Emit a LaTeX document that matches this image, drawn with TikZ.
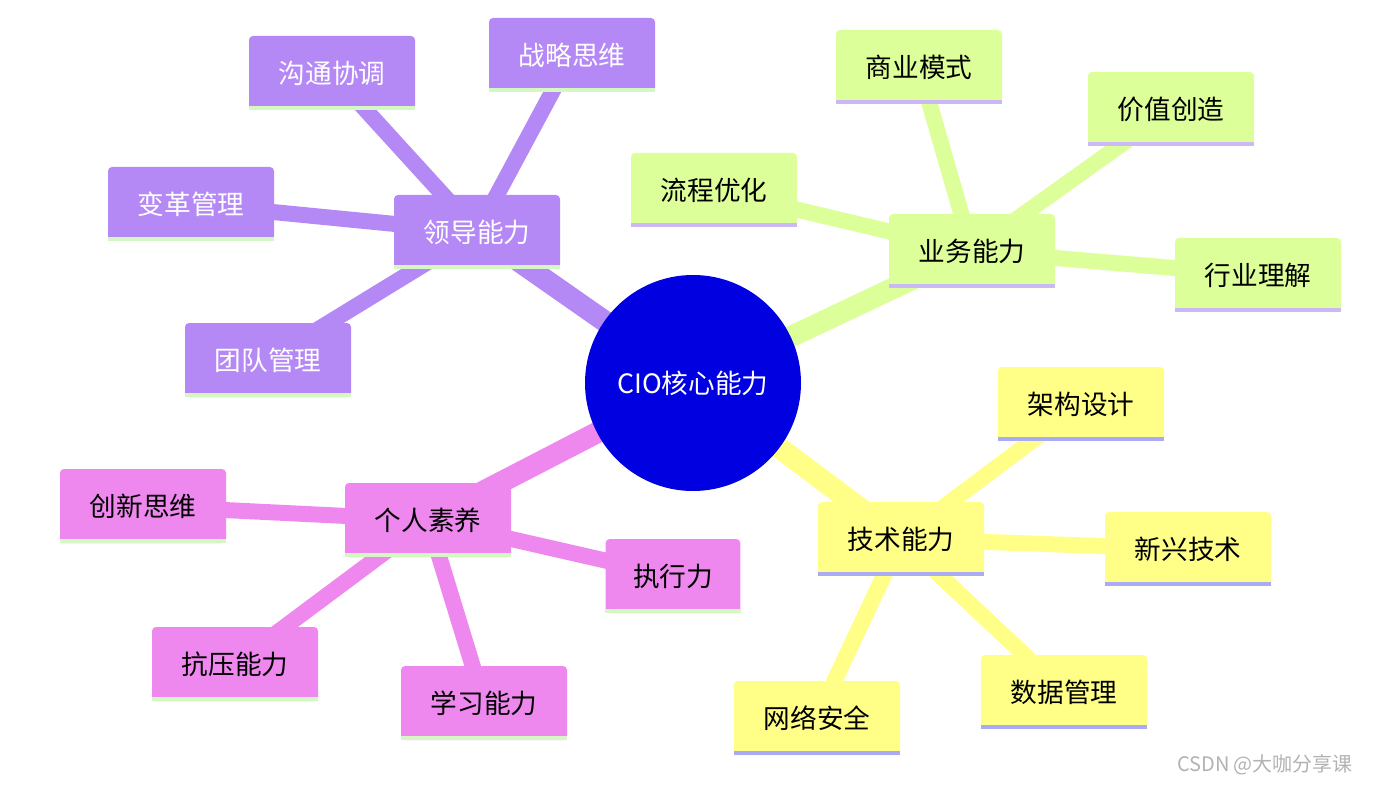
\documentclass[tikz,border=0pt]{standalone}
\usepackage{fontspec}
\setmainfont{Noto Sans CJK SC}
\usetikzlibrary{backgrounds}
\definecolor{lead}{HTML}{B589F5}
\definecolor{biz}{HTML}{DDFF99}
\definecolor{tech}{HTML}{FFFF88}
\definecolor{pers}{HTML}{EE88EE}
\definecolor{sgreen}{HTML}{D4F7C4}
\definecolor{slav}{HTML}{CDB8F7}
\definecolor{sblue}{HTML}{AAAAF5}
\tikzset{
 box/.style={rectangle,rounded corners=3pt,minimum width=124.5pt,minimum height=55.5pt,inner sep=0pt,font=\fontsize{20}{24}\selectfont},
 mainedge/.style={line width=16pt},
 subedge/.style={line width=12pt},
}
\newcommand\mmnode[6]{% name, pos, text, fill, stripe, textcolor
 \node[box,fill=#4,text=#6] (#1) at (#2) {#3};
 \fill[#5] (#1.south west) rectangle ([yshift=3.5pt]#1.south east);
}
\begin{document}
\begin{tikzpicture}[x=0.75pt,y=-0.75pt]
\useasboundingbox (0,0) rectangle (1386,788);
\node[circle,fill=blue!88!black,minimum size=162pt,text=white,font=\fontsize{20}{24}\selectfont] (c) at (693,383) {CIO核心能力};
\mmnode{L}{477,232}{领导能力}{lead}{sgreen}{white}
\mmnode{L1}{332,73}{沟通协调}{lead}{sgreen}{white}
\mmnode{L2}{572,55}{战略思维}{lead}{sgreen}{white}
\mmnode{L3}{191,204}{变革管理}{lead}{sgreen}{white}
\mmnode{L4}{268,360}{团队管理}{lead}{sgreen}{white}
\mmnode{B}{972,251}{业务能力}{biz}{slav}{black}
\mmnode{B1}{919,67}{商业模式}{biz}{slav}{black}
\mmnode{B2}{1171,109}{价值创造}{biz}{slav}{black}
\mmnode{B3}{714,190}{流程优化}{biz}{slav}{black}
\mmnode{B4}{1258,275}{行业理解}{biz}{slav}{black}
\mmnode{T}{901,539}{技术能力}{tech}{sblue}{black}
\mmnode{T1}{1081,404}{架构设计}{tech}{sblue}{black}
\mmnode{T2}{1188,549}{新兴技术}{tech}{sblue}{black}
\mmnode{T3}{1064,692}{数据管理}{tech}{sblue}{black}
\mmnode{T4}{817,718}{网络安全}{tech}{sblue}{black}
\mmnode{P}{428,520}{个人素养}{pers}{sgreen}{black}
\mmnode{P1}{143,506}{创新思维}{pers}{sgreen}{black}
\node[box,fill=pers,minimum width=101pt] (P2) at (673,576) {执行力};
\fill[sgreen] (P2.south west) rectangle ([yshift=3.5pt]P2.south east);
\mmnode{P3}{235,664}{抗压能力}{pers}{sgreen}{black}
\mmnode{P4}{484,703}{学习能力}{pers}{sgreen}{black}
\node[text=gray!60,font=\fontsize{15}{18}\selectfont] (wm) at (1265,765) {CSDN @大咖分享课};
\begin{scope}[on background layer]
\draw[mainedge,lead] (c.center) -- (L.center);
\draw[mainedge,biz] (c.center) -- (B.center);
\draw[mainedge,tech] (c.center) -- (T.center);
\draw[mainedge,pers] (c.center) -- (P.center);
\foreach \i in {1,2,3,4}{
 \draw[subedge,lead] (L.center) -- (L\i.center);
 \draw[subedge,biz] (B.center) -- (B\i.center);
 \draw[subedge,tech] (T.center) -- (T\i.center);
 \draw[subedge,pers] (P.center) -- (P\i.center);
}
\end{scope}
\end{tikzpicture}
\end{document}
